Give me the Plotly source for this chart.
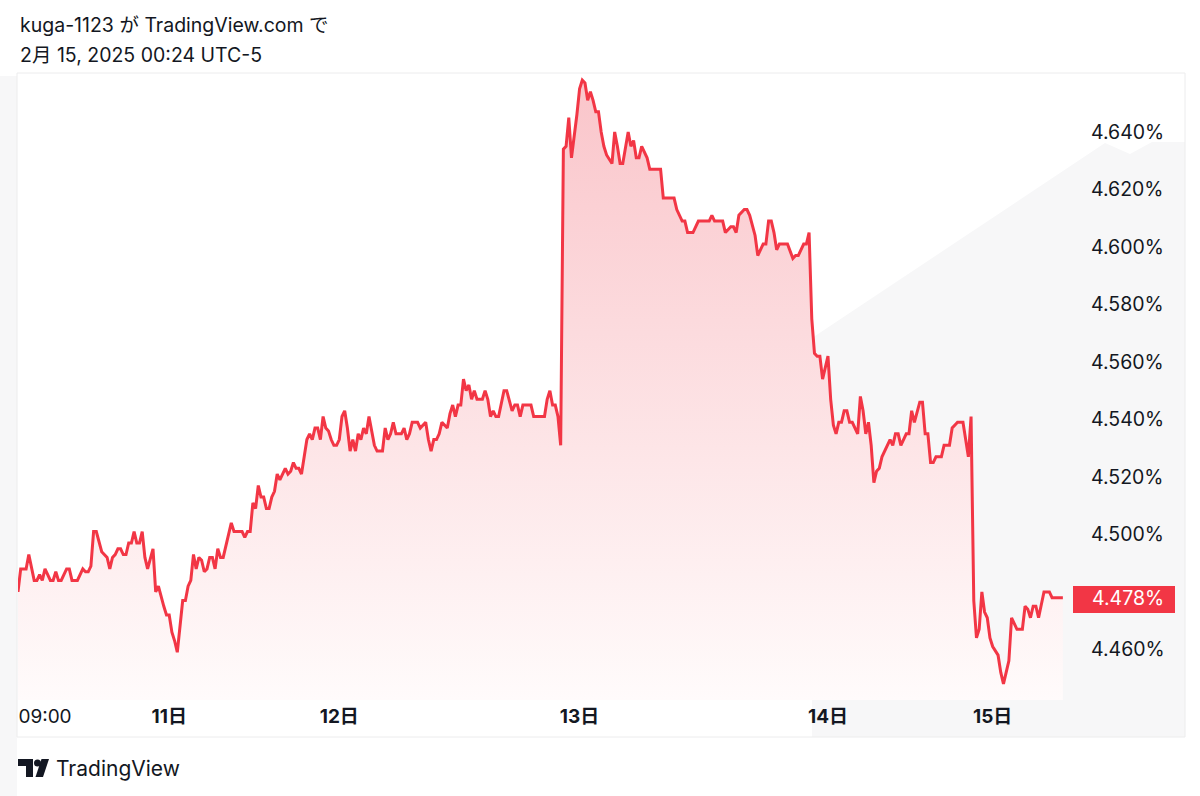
import plotly.graph_objects as go

# ---------------- data ----------------
bars = [0, 1, 3, 4, 6, 7, 8, 9, 10, 12, 13, 14, 15, 16, 18, 19, 20, 22, 24, 25, 26, 27, 28, 29,
        31, 32, 33, 34, 35, 36, 37, 38, 39, 40, 41, 42, 43, 44, 45, 46, 47, 48, 49, 50, 51, 52,
        54, 55, 56, 57, 58, 59, 61, 62, 63, 64, 65, 66, 67, 68, 69, 70, 71, 72, 73, 74, 75, 76,
        79, 80, 83, 84, 85, 86, 87, 88, 89, 90, 91, 92, 93, 94, 95, 96, 97, 98, 99, 100, 101,
        102, 103, 104, 105, 106, 107, 108, 109, 110, 111, 112, 113, 114, 115, 116, 117, 118,
        119, 120, 121, 122, 123, 124, 125, 126, 127, 128, 129, 130, 131, 132, 133, 135, 136,
        137, 138, 139, 140, 142, 143, 144, 145, 146, 148, 149, 151, 152, 153, 154, 155, 156,
        157, 159, 160, 161, 162, 163, 164, 165, 166, 167, 168, 169, 170, 172, 173, 174, 175,
        176, 177, 178, 180, 181, 183, 184, 185, 186, 187, 190, 191, 195, 196, 197, 198, 199,
        200, 201, 202, 203, 204, 205, 207, 208, 209, 210, 211, 212, 213, 214, 215, 216, 217,
        218, 220, 221, 222, 223, 224, 225, 226, 227, 228, 229, 230, 231, 233, 234, 238, 239,
        243, 244, 246, 247, 248, 250, 252, 256, 257, 258, 261, 262, 264, 265, 266, 267, 269,
        270, 271, 273, 274, 276, 277, 278, 279, 280, 281, 282, 285, 287, 288, 289, 291, 292,
        293, 294, 295, 296, 297, 298, 299, 300, 301, 302, 303, 304, 305, 306, 307, 308, 309,
        311, 312, 313, 314, 315, 316, 317, 318, 319, 320, 321, 323, 324, 325, 326, 327, 328,
        329, 330, 331, 332, 334, 335, 336, 337, 338, 339, 340, 342, 343, 345, 346, 348, 350,
        351, 352, 353, 354, 355, 356, 357, 358, 359, 360, 361, 363, 364, 365, 366, 367, 368,
        370, 372, 373, 374, 375, 376, 377, 378, 380, 382, 383, 387]

yields = [4.480, 4.488, 4.488, 4.493, 4.484, 4.484, 4.486, 4.484, 4.488, 4.484, 4.484, 4.487,
          4.484, 4.484, 4.488, 4.488, 4.484, 4.484, 4.488, 4.487, 4.487, 4.489, 4.501, 4.501,
          4.494, 4.493, 4.492, 4.488, 4.492, 4.493, 4.495, 4.495, 4.493, 4.493, 4.497, 4.497,
          4.501, 4.497, 4.497, 4.501, 4.492, 4.488, 4.492, 4.495, 4.480, 4.482, 4.475, 4.472,
          4.472, 4.466, 4.463, 4.459, 4.477, 4.477, 4.482, 4.484, 4.493, 4.488, 4.492, 4.491,
          4.487, 4.488, 4.492, 4.492, 4.488, 4.495, 4.492, 4.492, 4.504, 4.501, 4.501, 4.499,
          4.501, 4.501, 4.511, 4.509, 4.517, 4.513, 4.513, 4.509, 4.509, 4.513, 4.515, 4.521,
          4.519, 4.521, 4.523, 4.521, 4.522, 4.525, 4.523, 4.523, 4.521, 4.527, 4.533, 4.535,
          4.533, 4.537, 4.537, 4.533, 4.541, 4.537, 4.536, 4.533, 4.531, 4.531, 4.533, 4.541,
          4.543, 4.537, 4.529, 4.533, 4.529, 4.535, 4.533, 4.537, 4.535, 4.541, 4.536, 4.531,
          4.529, 4.529, 4.537, 4.533, 4.535, 4.539, 4.535, 4.535, 4.537, 4.533, 4.535, 4.539,
          4.539, 4.537, 4.539, 4.533, 4.529, 4.533, 4.533, 4.535, 4.539, 4.537, 4.542, 4.545,
          4.541, 4.545, 4.545, 4.554, 4.550, 4.552, 4.547, 4.550, 4.547, 4.547, 4.550, 4.547,
          4.541, 4.543, 4.541, 4.541, 4.550, 4.550, 4.543, 4.545, 4.545, 4.541, 4.545, 4.545,
          4.541, 4.541, 4.547, 4.550, 4.545, 4.545, 4.541, 4.531, 4.634, 4.635, 4.645, 4.631,
          4.646, 4.655, 4.658, 4.657, 4.651, 4.654, 4.651, 4.647, 4.647, 4.640, 4.635, 4.632,
          4.629, 4.640, 4.635, 4.629, 4.629, 4.635, 4.640, 4.635, 4.637, 4.631, 4.631, 4.635,
          4.631, 4.627, 4.627, 4.617, 4.617, 4.613, 4.609, 4.609, 4.605, 4.605, 4.609, 4.609,
          4.611, 4.609, 4.609, 4.605, 4.607, 4.607, 4.605, 4.611, 4.613, 4.613, 4.611, 4.604,
          4.597, 4.601, 4.601, 4.609, 4.609, 4.605, 4.599, 4.601, 4.601, 4.596, 4.597, 4.597,
          4.601, 4.601, 4.605, 4.575, 4.563, 4.562, 4.562, 4.554, 4.558, 4.562, 4.547, 4.538,
          4.535, 4.539, 4.539, 4.543, 4.543, 4.539, 4.539, 4.535, 4.548, 4.543, 4.535, 4.539,
          4.531, 4.518, 4.522, 4.523, 4.527, 4.529, 4.533, 4.531, 4.535, 4.535, 4.531, 4.533,
          4.535, 4.535, 4.543, 4.539, 4.546, 4.546, 4.535, 4.535, 4.525, 4.525, 4.527, 4.527,
          4.531, 4.531, 4.537, 4.539, 4.539, 4.533, 4.527, 4.541, 4.477, 4.464, 4.467, 4.480,
          4.473, 4.471, 4.464, 4.461, 4.458, 4.452, 4.448, 4.452, 4.456, 4.471, 4.467, 4.467,
          4.475, 4.474, 4.471, 4.475, 4.475, 4.471, 4.480, 4.480, 4.478, 4.478]

time_tick_bars = [10, 56, 119, 208, 300, 361]
time_tick_labels = ["09:00", "<b>11日</b>", "<b>12日</b>", "<b>13日</b>", "<b>14日</b>", "<b>15日</b>"]
price_ticks = [4.46, 4.50, 4.52, 4.54, 4.56, 4.58, 4.60, 4.62, 4.64]
price_tick_labels = [f"{v:.3f}%" for v in price_ticks]
header_line1 = "kuga-1123 が TradingView.com で"
header_line2 = "2月 15, 2025 00:24 UTC-5"
footer_text = "TradingView"
last_value = yields[-1]

# ---------------- layout helpers ----------------
W, H = 1200, 796
L, R, T, B = 18, 1068, 73, 700
Y_RANGE = [4.4424, 4.6605]
X_RANGE = [0, 388.9]
FONT = "Inter, Noto Sans CJK JP, sans-serif"
TXT = "#131722"
RED = "#f23645"
WM = "#f7f7f8"


def px(x):
    return (x - L) / (R - L)


def py(y):
    return (B - y) / (B - T)


def poly(points):
    return "M " + " L ".join(f"{px(a):.5f},{py(b):.5f}" for a, b in points) + " Z"


fig = go.Figure()

fig.add_trace(go.Scatter(
    x=bars, y=yields, mode="lines",
    line=dict(color=RED, width=3),
    fill="tozeroy",
    fillgradient=dict(type="vertical", start=Y_RANGE[0], stop=max(yields),
                      colorscale=[[0, "rgb(255,251,251)"], [1, "rgb(250,197,202)"]]),
    hoverinfo="skip", showlegend=False,
))

shapes = []
# faint watermark areas
for pts in [
    [(812, 338), (1105, 143), (1130, 154), (1152, 142), (1185, 142), (1185, 737), (812, 737)],
    [(0, 76), (17, 76), (17, 796), (0, 796)],
]:
    shapes.append(dict(type="path", xref="paper", yref="paper", path=poly(pts),
                       fillcolor=WM, line=dict(width=0), layer="below"))
# frame
shapes.append(dict(type="rect", xref="paper", yref="paper",
                   x0=px(17), x1=px(1185), y0=py(737), y1=py(73),
                   line=dict(color="#ececed", width=1), fillcolor="rgba(0,0,0,0)", layer="below"))
# last price label box
shapes.append(dict(type="rect", xref="paper", yref="paper",
                   x0=px(1073), x1=px(1175), y0=py(613), y1=py(586),
                   line=dict(width=0), fillcolor=RED, layer="above"))
# TradingView logo
for pts in [
    [(18, 759), (33, 759), (33, 777), (26, 777), (26, 766), (18, 766)],
    [(41.5, 759), (49, 759), (43, 777), (35.5, 777)],
]:
    shapes.append(dict(type="path", xref="paper", yref="paper", path=poly(pts),
                       fillcolor=TXT, line=dict(width=0), layer="above"))
shapes.append(dict(type="circle", xref="paper", yref="paper",
                   x0=px(34), x1=px(41), y0=py(766.5), y1=py(759.5),
                   fillcolor=TXT, line=dict(width=0), layer="above"))

annotations = [
    dict(text=header_line1, x=px(18), y=py(25), xref="paper", yref="paper",
         xanchor="left", yanchor="middle", showarrow=False, font=dict(size=19.5, color=TXT, family=FONT)),
    dict(text=header_line2, x=px(18), y=py(55), xref="paper", yref="paper",
         xanchor="left", yanchor="middle", showarrow=False, font=dict(size=19.5, color=TXT, family=FONT)),
    dict(text=footer_text, x=px(54), y=py(768), xref="paper", yref="paper",
         xanchor="left", yanchor="middle", showarrow=False, font=dict(size=21, color=TXT, family=FONT)),
    dict(text=f"{last_value:.3f}%", x=px(1128), y=last_value, xref="paper", yref="y",
         xanchor="center", yanchor="middle", showarrow=False, font=dict(size=19.5, color="white", family=FONT)),
]

fig.update_layout(
    width=W, height=H,
    margin=dict(l=L, r=W - R, t=T, b=H - B, pad=0),
    paper_bgcolor="white", plot_bgcolor="rgba(0,0,0,0)",
    shapes=shapes, annotations=annotations, showlegend=False,
    font=dict(family=FONT, color=TXT),
    xaxis=dict(range=X_RANGE, tickmode="array", tickvals=time_tick_bars, ticktext=time_tick_labels,
               showgrid=False, zeroline=False, showline=False, ticks="",
               tickfont=dict(size=19, color=TXT, family=FONT), ticklabelstandoff=3, fixedrange=True),
    yaxis=dict(range=Y_RANGE, side="right", tickmode="array", tickvals=price_ticks,
               ticktext=price_tick_labels, showgrid=False, zeroline=False, showline=False,
               ticks="", tickfont=dict(size=19.5, color=TXT, family=FONT), ticklabelstandoff=22,
               fixedrange=True),
)

fig.write_html("out.html", config={"displayModeBar": False, "staticPlot": True},
               post_script="document.body.style.margin='0';document.body.style.overflow='hidden';")
